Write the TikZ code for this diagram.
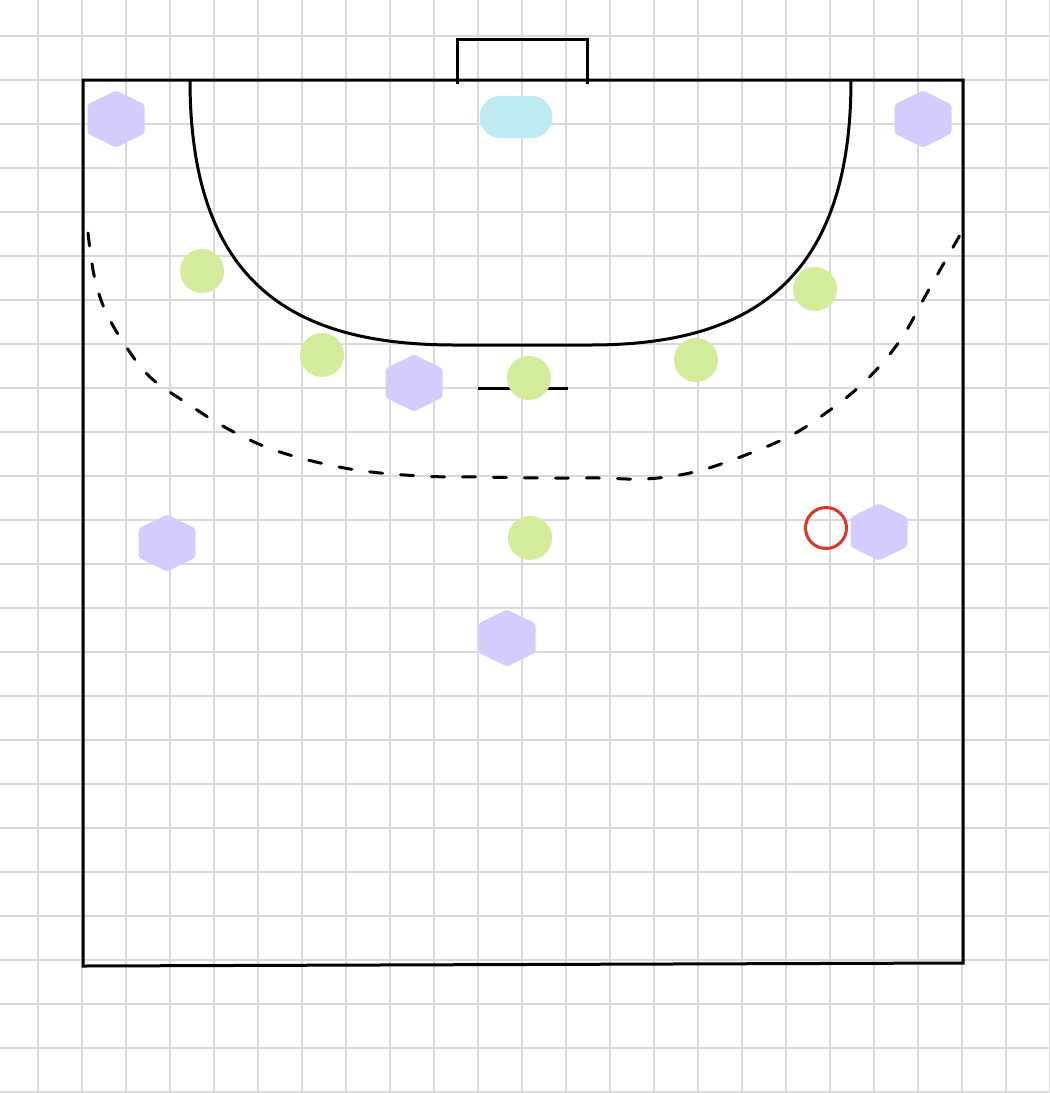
\documentclass[tikz,border=0pt]{standalone}
\usetikzlibrary{shapes.geometric}
\definecolor{gridc}{RGB}{218,218,218}
\definecolor{greenc}{RGB}{211,236,155}
\definecolor{purplec}{RGB}{212,204,252}
\definecolor{cyanc}{RGB}{190,234,242}
\definecolor{redc}{RGB}{222,52,42}
\begin{document}
\begin{tikzpicture}[x=0.5pt,y=-0.5pt,
  gridline/.style={draw=gridc,line width=1pt},
  court/.style={draw=black,line width=1.5pt,line join=miter},
  dashline/.style={draw=black,line width=1.5pt,dash pattern=on 6.5pt off 9pt,line cap=round},
  greenp/.style={circle,fill=greenc,minimum size=22pt,inner sep=0pt},
  redp/.style={circle,draw=redc,line width=1.5pt,minimum size=20.5pt,inner sep=0pt},
  pill/.style={rectangle,rounded corners=10.5pt,fill=cyanc,minimum width=36.5pt,minimum height=21pt,inner sep=0pt},
  hexfill/.style={fill=purplec,rounded corners=1pt}]
\fill[white] (0,0) rectangle (1050,1093);
\useasboundingbox (0,0) rectangle (1050,1093);
% grid
\foreach \gx in {38,82,...,1050} \draw[gridline] (\gx,0) -- (\gx,1093);
\foreach \gy in {36,80,...,1092} \draw[gridline] (0,\gy) -- (1050,\gy);
% court
\draw[court] (83,80) -- (963,80) -- (963,963) -- (83,966) -- cycle;
% goal
\draw[court] (457,84) -- (457,39) -- (587,39) -- (587,84);
% goal area
\draw[court] (190,80) .. controls (190,290) and (300,345) .. (455,345) -- (590,345) .. controls (740,345) and (851,290) .. (851,80);
% 7m mark
\draw[court] (478,388) -- (568,388);
% free throw line
\draw[dashline] plot[smooth,tension=0.6] coordinates {(88,233) (94,275) (105,310) (125,345) (150,377) (185,402) (230,430) (280,452) (350,469) (420,476) (480,477) (540,478) (600,478) (645,479) (690,473) (735,459) (790,436) (830,410) (860,386) (885,360) (905,333) (922,302) (940,270) (960,235)};
% hexagon players
\foreach \hx/\hy/\hn in {116/119/h1, 923/119/h2, 414/383/h3, 167/543/h4, 879/532/h5, 507/638/h6}{
  \coordinate (\hn) at (\hx,\hy);
  \fill[hexfill,shift={(\hn)}] (0,-28.5) -- (28.5,-14.5) -- (28.5,14.5) -- (0,28.5) -- (-28.5,14.5) -- (-28.5,-14.5) -- cycle;
}
% goalkeeper
\node[pill] (gk) at (516,117) {};
% green players
\node[greenp] (g1) at (202,271) {};
\node[greenp] (g2) at (322,355) {};
\node[greenp] (g3) at (529,378) {};
\node[greenp] (g4) at (696,360) {};
\node[greenp] (g5) at (815,289) {};
\node[greenp] (g6) at (530,538) {};
% ball / marker
\node[redp] (r1) at (826,528) {};
\end{tikzpicture}
\end{document}
